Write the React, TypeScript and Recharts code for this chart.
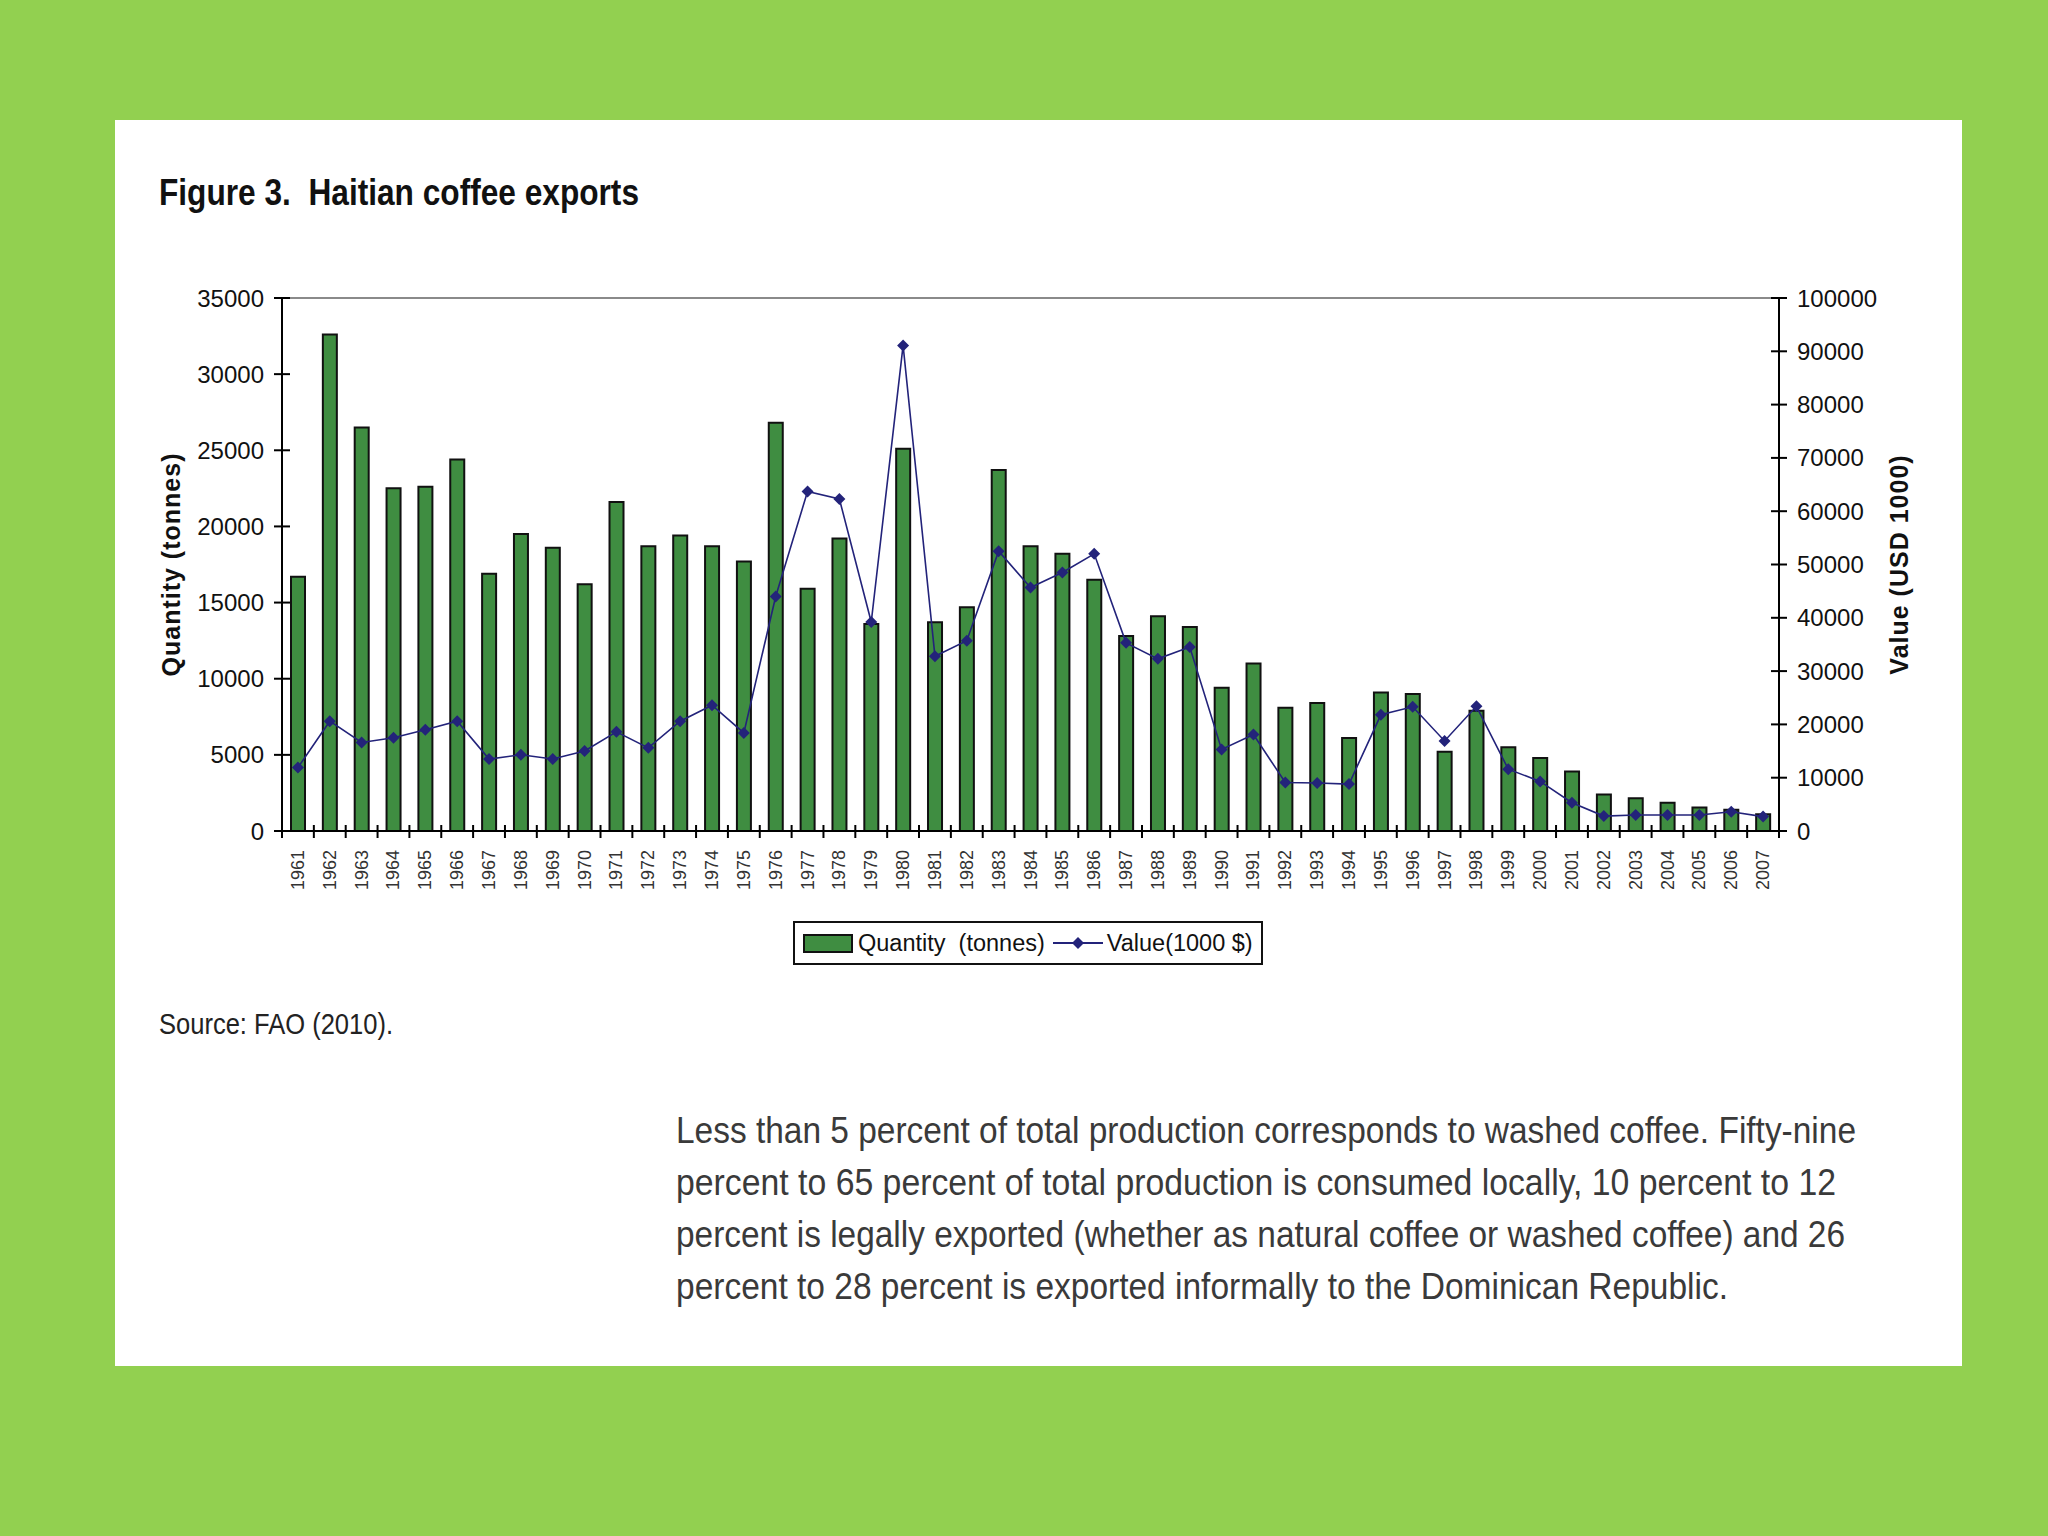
import React from "react";
import {
  ComposedChart,
  Bar,
  Line,
  XAxis,
  YAxis,
  ReferenceLine,
  Legend,
} from "recharts";

const YEARS = [
  "1961", "1962", "1963", "1964", "1965", "1966", "1967", "1968", "1969", "1970",
  "1971", "1972", "1973", "1974", "1975", "1976", "1977", "1978", "1979", "1980",
  "1981", "1982", "1983", "1984", "1985", "1986", "1987", "1988", "1989", "1990",
  "1991", "1992", "1993", "1994", "1995", "1996", "1997", "1998", "1999", "2000",
  "2001", "2002", "2003", "2004", "2005", "2006", "2007",
];

// tonnes
const QUANTITY = [
  16700, 32600, 26500, 22500, 22600, 24400, 16900, 19500, 18600, 16200,
  21600, 18700, 19400, 18700, 17700, 26800, 15900, 19200, 13600, 25100,
  13700, 14700, 23700, 18700, 18200, 16500, 12800, 14100, 13400, 9400,
  11000, 8100, 8400, 6100, 9100, 9000, 5200, 7900, 5500, 4800,
  3900, 2400, 2150, 1850, 1550, 1400, 1100,
];

// 1000 $
const VALUE = [
  11900, 20600, 16600, 17500, 19000, 20600, 13500, 14300, 13500, 15000,
  18600, 15600, 20600, 23600, 18400, 44000, 63700, 62300, 39200, 91100,
  32800, 35700, 52500, 45700, 48500, 52000, 35300, 32300, 34500, 15300,
  18100, 9100, 9000, 8800, 21800, 23300, 16900, 23400, 11600, 9300,
  5300, 2800, 3000, 3000, 3000, 3600, 2700,
];

const LEFT_TICKS = [0, 5000, 10000, 15000, 20000, 25000, 30000, 35000];
const RIGHT_TICKS = [0, 10000, 20000, 30000, 40000, 50000, 60000, 70000, 80000, 90000, 100000];

const PARAGRAPH = [
  "Less than 5 percent of total production corresponds to washed coffee. Fifty-nine",
  "percent to 65 percent of total production is consumed locally, 10 percent to 12",
  "percent is legally exported (whether as natural coffee or washed coffee) and 26",
  "percent to 28 percent is exported informally to the Dominican Republic.",
];
// measured line widths in the reference page
const PARAGRAPH_WIDTHS = [1180, 1160, 1169, 1052];

const data = YEARS.map((year, i) => ({
  year,
  quantity: QUANTITY[i],
  value: VALUE[i],
}));

const BAR_GREEN = "#3f8d41";
const NAVY = "#23237a";
const SANS = "'Liberation Sans', Arial, sans-serif";

// plot box (page pixels)
const PLOT_LEFT = 282;
const PLOT_RIGHT = 1779;
const BAND = (PLOT_RIGHT - PLOT_LEFT) / YEARS.length;

const TICK_GAP = 18;

function LeftTick(props: any) {
  const { x, y, payload } = props;
  const ax = x + TICK_GAP;
  return (
    <g>
      <line x1={ax - 8} x2={ax + 8} y1={y} y2={y} stroke="#000" strokeWidth={2} />
      <text x={x} y={y} textAnchor="end" dominantBaseline="central" fontSize={24} fontFamily={SANS} fill="#111">
        {payload.value}
      </text>
    </g>
  );
}

function RightTick(props: any) {
  const { x, y, payload } = props;
  const ax = x - TICK_GAP;
  return (
    <g>
      <line x1={ax - 8} x2={ax + 8} y1={y} y2={y} stroke="#000" strokeWidth={2} />
      <text x={x} y={y} textAnchor="start" dominantBaseline="central" fontSize={24} fontFamily={SANS} fill="#111">
        {payload.value}
      </text>
    </g>
  );
}

function YearTick(props: any) {
  const { x, y, payload, index } = props;
  const ay = y - 19;
  const left = x - BAND / 2;
  return (
    <g>
      <line x1={left} x2={left} y1={ay - 6} y2={ay + 7} stroke="#000" strokeWidth={2} />
      {index === YEARS.length - 1 && (
        <line x1={x + BAND / 2} x2={x + BAND / 2} y1={ay - 6} y2={ay + 7} stroke="#000" strokeWidth={2} />
      )}
      <text
        x={x}
        y={y}
        transform={`rotate(-90 ${x} ${y})`}
        textAnchor="end"
        dominantBaseline="central"
        fontSize={18}
        fontFamily={SANS}
        fill="#333"
      >
        {payload.value}
      </text>
    </g>
  );
}

function Diamond(props: any) {
  const { cx, cy, index } = props;
  if (cx == null || cy == null) return null;
  const r = 6;
  return (
    <path
      key={`d-${index}`}
      d={`M${cx},${cy - r}L${cx + r},${cy}L${cx},${cy + r}L${cx - r},${cy}Z`}
      fill={NAVY}
    />
  );
}

function LegendBox() {
  return (
    <div
      style={{
        boxSizing: "border-box",
        width: 470,
        height: 44,
        border: "2px solid #111",
        background: "#fff",
        display: "flex",
        alignItems: "center",
        paddingLeft: 8,
        fontFamily: SANS,
        fontSize: 23.5,
        color: "#111",
        whiteSpace: "pre",
      }}
    >
      <span style={{ display: "inline-block", width: 46, height: 15, background: BAR_GREEN, border: "2px solid #111", marginRight: 5 }} />
      <span>Quantity  (tonnes)</span>
      <svg width={50} height={20} style={{ margin: "0 4px 0 8px" }}>
        <line x1={0} x2={50} y1={10} y2={10} stroke={NAVY} strokeWidth={2} />
        <path d="M25,4L31,10L25,16L19,10Z" fill={NAVY} />
      </svg>
      <span>Value(1000 $)</span>
    </div>
  );
}

export default function App() {
  return (
    <div style={{ position: "absolute", left: 0, top: 0, width: 2048, height: 1536, background: "#92d050", overflow: "hidden" }}>
      <div style={{ position: "absolute", left: 115, top: 120, width: 1847, height: 1246, background: "#fff" }} />

      <div style={{ position: "absolute", left: 0, top: 0 }}>
        <ComposedChart
          width={2048}
          height={1000}
          data={data}
          margin={{ top: 298, left: 140, right: 108, bottom: 109 }}
        >
          <XAxis
            dataKey="year"
            interval={0}
            height={60}
            axisLine={{ stroke: "#000", strokeWidth: 2 }}
            tickLine={false}
            tickSize={8}
            tickMargin={11}
            tick={<YearTick />}
          />
          <YAxis
            yAxisId="left"
            orientation="left"
            width={142}
            domain={[0, 35000]}
            ticks={LEFT_TICKS}
            interval={0}
            axisLine={{ stroke: "#000", strokeWidth: 2 }}
            tickLine={false}
            tickSize={8}
            tickMargin={10}
            tick={<LeftTick />}
            label={{
              value: "Quantity (tonnes)",
              angle: -90,
              position: "insideLeft",
              offset: 31,
              style: { textAnchor: "middle", fontFamily: SANS, fontWeight: 700, fontSize: 25, letterSpacing: 1, fill: "#111" },
            }}
          />
          <YAxis
            yAxisId="right"
            orientation="right"
            width={161}
            domain={[0, 100000]}
            ticks={RIGHT_TICKS}
            interval={0}
            axisLine={{ stroke: "#000", strokeWidth: 2 }}
            tickLine={false}
            tickSize={8}
            tickMargin={10}
            tick={<RightTick />}
            label={{
              value: "Value (USD 1000)",
              angle: -90,
              position: "insideRight",
              offset: 41,
              style: { textAnchor: "middle", fontFamily: SANS, fontWeight: 700, fontSize: 25, letterSpacing: 1, fill: "#111" },
            }}
          />
          <ReferenceLine yAxisId="left" y={35000} stroke="#8a8a8a" strokeWidth={2} />
          <Bar
            yAxisId="left"
            dataKey="quantity"
            name="Quantity  (tonnes)"
            barSize={14}
            fill={BAR_GREEN}
            stroke="#111"
            strokeWidth={2}
            isAnimationActive={false}
          />
          <Line
            yAxisId="right"
            dataKey="value"
            name="Value(1000 $)"
            type="linear"
            stroke={NAVY}
            strokeWidth={1.6}
            dot={Diamond}
            activeDot={false}
            isAnimationActive={false}
          />
          <Legend
            layout="horizontal"
            verticalAlign="middle"
            align="center"
            wrapperStyle={{ left: 793, top: 921, width: 470, height: 44 }}
            content={() => <LegendBox />}
          />
        </ComposedChart>
      </div>

      {/* page text, condensed to the reference widths */}
      <svg width={2048} height={1536} style={{ position: "absolute", left: 0, top: 0, pointerEvents: "none" }}>
        <text
          x={159}
          y={205}
          fontFamily={SANS}
          fontWeight={700}
          fontSize={37}
          fill="#111"
          textLength={480}
          lengthAdjust="spacingAndGlyphs"
          style={{ whiteSpace: "pre" }}
        >
          Figure 3.  Haitian coffee exports
        </text>
        <text
          x={159}
          y={1034}
          fontFamily={SANS}
          fontSize={29}
          fill="#222"
          textLength={234}
          lengthAdjust="spacingAndGlyphs"
        >
          Source: FAO (2010).
        </text>
        {PARAGRAPH.map((line, i) => (
          <text
            key={i}
            x={676}
            y={1143 + i * 52}
            fontFamily={SANS}
            fontSize={37}
            fill="#3a3a3a"
            textLength={PARAGRAPH_WIDTHS[i]}
            lengthAdjust="spacingAndGlyphs"
          >
            {line}
          </text>
        ))}
      </svg>
    </div>
  );
}
